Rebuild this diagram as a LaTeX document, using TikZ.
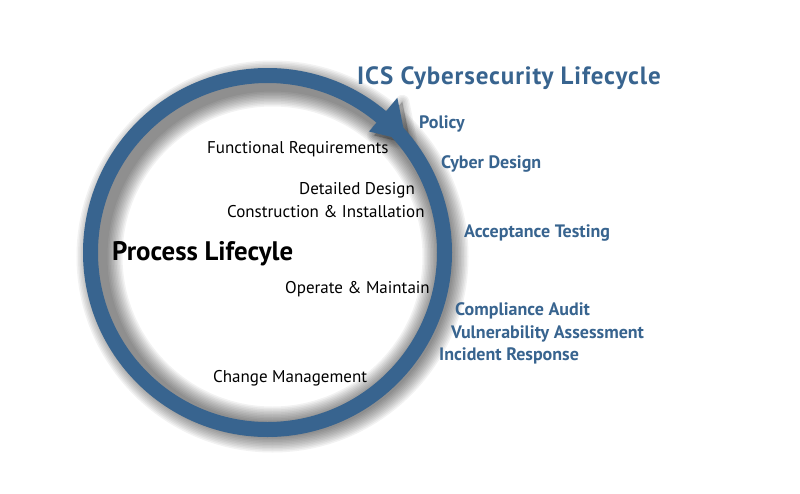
\documentclass[tikz,border=0pt]{standalone}
\usepackage{fontspec}
\setmainfont{PT Sans}
\usetikzlibrary{calc}
\pgfdeclarelayer{edgelayer}
\pgfdeclarelayer{nodelayer}
\pgfsetlayers{edgelayer,main,nodelayer}
\definecolor{icsblue}{RGB}{56,100,143}
\tikzset{font=\fontsize{16}{18}\selectfont}
\tikzstyle{none}=[inner sep=0pt]
\tikzstyle{stage}=[inner sep=0pt,anchor=base west,text=black,font=\fontsize{17}{20}\selectfont]
\tikzstyle{cyber}=[inner sep=0pt,anchor=base west,text=icsblue,font=\bfseries\fontsize{18}{20}\selectfont]
\tikzstyle{ring}=[draw=icsblue,line width=15pt]
\tikzstyle{shade}=[draw=black,opacity=0.05]

\begin{document}
\begin{tikzpicture}[x=1pt,y=-1pt]
	\useasboundingbox (0,0) rectangle (800,493);
	\begin{pgfonlayer}{nodelayer}
		\node [style=none] (0) at (267.5, 252.5) {};
		\node [style=none] (1) at ($(0.center)+(-50:158)$) {};
		\node [style=none] (2) at ($(0.center)+(-50:202)$) {};
		\node [style=none] (3) at ($(0.center)+(-39:178)$) {};
		\node [style=none] (4) at ($(0.center)+(5,4)$) {};
		% process side
		\node [style=stage] (5) at (207, 153) {Functional Requirements};
		\node [style=stage] (6) at (299, 194) {Detailed Design};
		\node [style=stage] (7) at (227, 217) {Construction \& Installation};
		\node [style=stage, font=\bfseries\fontsize{26.8}{30}\selectfont] (8) at (112, 260) {Process Lifecyle};
		\node [style=stage] (9) at (285, 293) {Operate \& Maintain};
		\node [style=stage] (10) at (213, 382) {Change Management};
		% cyber side
		\node [style=cyber, font=\bfseries\fontsize{25}{28}\selectfont\addfontfeature{LetterSpace=3.5}] (11) at (357, 84) {ICS Cybersecurity Lifecycle};
		\node [style=cyber] (12) at (419, 128) {Policy};
		\node [style=cyber] (13) at (441, 168) {Cyber Design};
		\node [style=cyber] (14) at (464, 237) {Acceptance Testing};
		\node [style=cyber] (15) at (455, 315) {Compliance Audit};
		\node [style=cyber] (16) at (451, 338) {Vulnerability Assessment};
		\node [style=cyber] (17) at (439, 360) {Incident Response};
	\end{pgfonlayer}
	\begin{pgfonlayer}{edgelayer}
		\foreach \w in {16,19,...,46}
			\draw [style=shade, line width=\w] (4.center) circle (173);
		\foreach \w in {2,5,...,14}
			\draw [style=shade, line width=\w, line join=round, fill=black, fill opacity=0.05] ($(1.center)+(5,4)$) to ($(2.center)+(5,4)$) to ($(3.center)+(5,4)$) -- cycle;
	\end{pgfonlayer}
	\draw [style=ring] (0.center) circle (177);
	\fill [icsblue] (1.center) to (2.center) to (3.center) -- cycle;
\end{tikzpicture}
\end{document}
